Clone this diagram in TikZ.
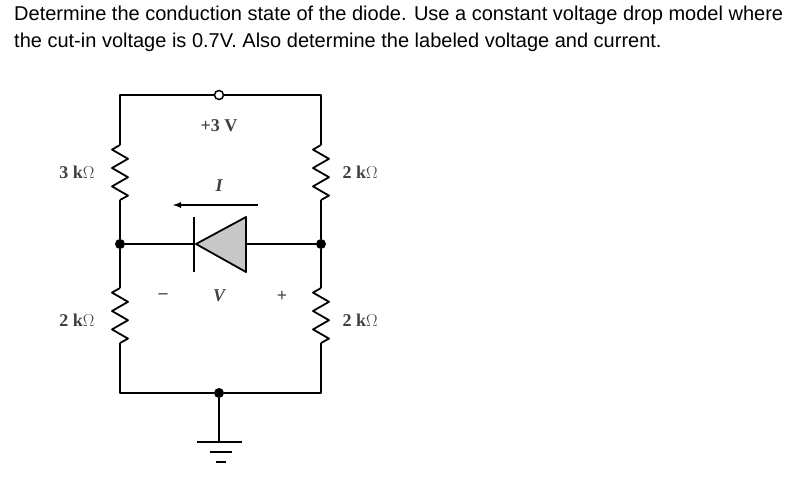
\documentclass[tikz,border=0pt]{standalone}
\usepackage{fontspec}
\setmainfont{Liberation Sans}
\newfontfamily\serf{Liberation Serif}
\begin{document}
\begin{tikzpicture}[x=1pt,y=-1pt,
  wire/.style={line width=1.8pt,line join=round},
  dot/.style={circle,fill=black,inner sep=0pt,minimum size=10pt},
  lbl/.style={font=\serf\bfseries\fontsize{18}{18}\selectfont,text=black!75},
  zig/.pic={\draw[wire] (0,0) -- (-8,4.6) -- (8,13.8) -- (-8,23) -- (8,32.2) -- (-8,41.4) -- (8,50.6) -- (0,55);}]
\useasboundingbox (0,0) rectangle (797,480);
\node[anchor=west,align=left,font=\fontsize{20}{27}\selectfont,inner sep=0pt] (q) at (14,29)
 {Determine the conduction state of the diode. Use a constant voltage drop model where\\the cut-in voltage is 0.7V. Also determine the labeled voltage and current.};
\coordinate (tl) at (120,95); \coordinate (tr) at (321,95);
\node[circle,draw,line width=1.5pt,inner sep=0pt,minimum size=9pt] (term) at (219,95) {};
\node[dot] (jl) at (120,244) {}; \node[dot] (jr) at (321,244) {};
\node[dot] (jb) at (219,393) {};
\coordinate (bl) at (120,393); \coordinate (br) at (321,393);
\coordinate (g) at (219,442);
\draw[wire] (term) -- (tl) -- (120,145); \pic at (120,145) {zig}; \draw[wire] (120,200) -- (jl) -- (120,288);
\pic at (120,288) {zig}; \draw[wire] (120,343) -- (bl) -- (jb);
\draw[wire] (term) -- (tr) -- (321,145); \pic at (321,145) {zig}; \draw[wire] (321,200) -- (jr) -- (321,288);
\pic at (321,288) {zig}; \draw[wire] (321,343) -- (br) -- (jb);
\draw[wire] (jb) -- (g);
\draw[wire] (197,442) -- (242,442); \draw[wire] (210,452) -- (232,452); \draw[wire] (216,462) -- (226,462);
% diode
\draw[wire] (jl) -- (194,244); \draw[wire] (246,244) -- (jr);
\draw[wire,fill=black!22] (246,217) -- (246,272) -- (196,244) -- cycle;
\draw[line width=2.6pt] (194,217) -- (194,272);
\draw[wire,-latex] (258,205) -- (173,205);
\node[lbl] (I) at (219,186) {\itshape I};
\node[lbl] (v3) at (219,126) {+3 V};
\node[lbl] (m) at (163,296) {\textendash};
\node[lbl] (V) at (219,296) {\itshape V};
\node[lbl] (p) at (282,296) {+};
\node[lbl,anchor=east] at (98,172) {3 k$\Omega$};
\node[lbl,anchor=west] at (339,172) {2 k$\Omega$};
\node[lbl,anchor=east] at (98,320) {2 k$\Omega$};
\node[lbl,anchor=west] at (339,320) {2 k$\Omega$};
\end{tikzpicture}
\end{document}
